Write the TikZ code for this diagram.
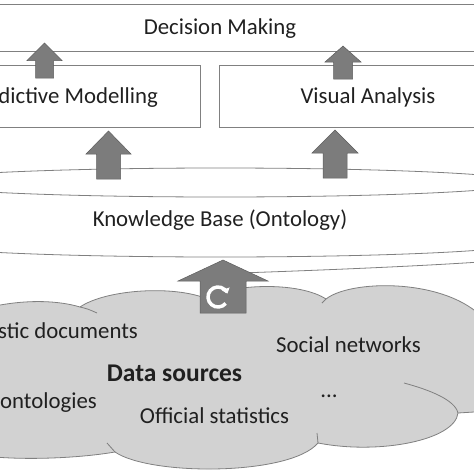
\documentclass[tikz,border=0pt]{standalone}
\usepackage{fontspec}
\setmainfont{Carlito}
\usetikzlibrary{arrows.meta}

\definecolor{linegray}{RGB}{128,128,128}
\definecolor{arrowgray}{RGB}{124,124,124}
\definecolor{cloudgray}{RGB}{210,210,210}
\definecolor{textgray}{RGB}{32,32,32}

\tikzset{
  frame/.style={draw=linegray, line width=0.8pt},
  blockarrow/.style={fill=arrowgray, draw=arrowgray!75!black, line width=0.5pt},
  txt/.style={text=textgray, inner sep=0pt, font=\fontsize{22.8}{27}\selectfont},
}
% block arrow: centre x, tip y, head base y, bottom y, head half width, shaft half width
\newcommand{\uparr}[6]{%
  \draw[blockarrow] (#1,#2) -- (#1+#5,#3) -- (#1+#6,#3) -- (#1+#6,#4)
    -- (#1-#6,#4) -- (#1-#6,#3) -- (#1-#5,#3) -- cycle;}

\begin{document}
\begin{tikzpicture}[x=1pt,y=-1pt]
\useasboundingbox (0,0) rectangle (474,474);
\clip (0,0) rectangle (474,474);

% boxes
\draw[frame] (-5,4) rectangle (480,51);
\draw[frame] (-5,65) rectangle (200,127);
\draw[frame] (219,65) rectangle (480,127);
\node[txt, anchor=base] (decision) at (220,34) {Decision Making};
\node[txt, anchor=base east] (predictive) at (158,103.5) {dictive Modelling};
\node[txt, anchor=base] (visual) at (368,103.5) {Visual Analysis};

% knowledge base
\draw[frame] (220,182.5) ellipse [x radius=305, y radius=14.5];
\draw[frame] (-85,242.5) arc [start angle=180, end angle=0, x radius=305, y radius=14.5];
\draw[frame] (225,273.5) .. controls (330,270) and (420,266) .. (480,262);
\node[txt, anchor=base] (kbase) at (220,226) {Knowledge Base (Ontology)};

\uparr{44.5}{43}{60.5}{78}{17.5}{9}
\uparr{343}{46}{62}{79}{18}{9.5}
\uparr{108.5}{131}{154}{179}{22.5}{12}
\uparr{335}{130}{153}{178}{23}{12}

% cloud
\path[fill=cloudgray, draw=linegray, line width=0.8pt] (-5,306)
  .. controls (30,299) and (60,301) .. (80,307)
  .. controls (105,290) and (170,285) .. (205,298)
  .. controls (235,283) and (300,282) .. (326,299)
  .. controls (350,280) and (440,278) .. (480,315)
  -- (490,315) -- (490,412) -- (474,412) -- (458,413)
  .. controls (455,440) and (380,455) .. (318,443)
  .. controls (290,476) and (150,476) .. (115,452)
  .. controls (80,458) and (30,460) .. (-5,457) -- cycle;
\draw[frame] (80,307) .. controls (88,309) .. (97,313);
\draw[frame] (322,303) -- (326,299);
\draw[frame] (317,433) -- (318,443);
\draw[frame] (107,443) -- (115,452);
\draw[frame] (404,383) .. controls (430,390) and (455,400) .. (458,413);

\uparr{223}{260}{281}{313}{45}{23}
\draw[white, line width=3.5pt, -{Triangle[width=8pt,length=5pt]}]
  (218,297) ++(40:10) arc [start angle=40, end angle=340, radius=10];

\node[txt, anchor=base west] (documents) at (-2,338) {stic documents};
\node[txt, anchor=base west] (ontologies) at (0,408) {ontologies};
\node[txt, anchor=base, font=\fontsize{25.5}{30}\selectfont\bfseries] (datasrc) at (174.5,381) {Data sources};
\node[txt, anchor=base] (official) at (214.5,423) {Official statistics};
\node[txt, anchor=base] (social) at (348.5,352) {Social networks};
\node[txt, anchor=base] (dots) at (329,397) {...};
\end{tikzpicture}
\end{document}
